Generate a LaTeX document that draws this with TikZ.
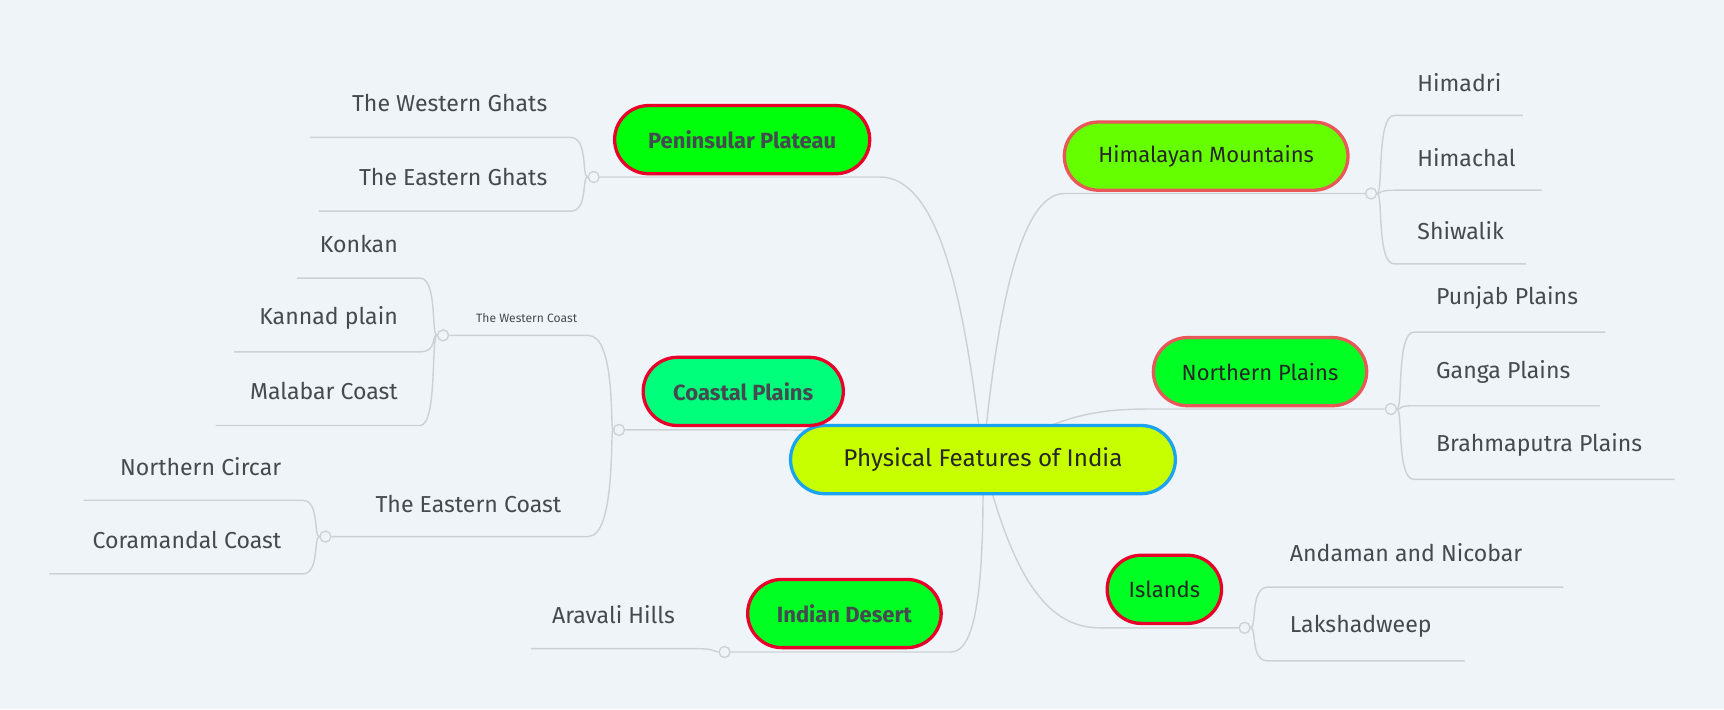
\documentclass[tikz,border=0pt]{standalone}
\usepackage{fontspec}
\setmainfont{Fira Sans}
\definecolor{bgc}{HTML}{EFF4F8}
\definecolor{lineg}{HTML}{CDD1D5}
\definecolor{txt}{HTML}{454A50}
\definecolor{HTMLblue}{HTML}{1AA3F0}
\definecolor{ylg}{HTML}{C8FF00}
\definecolor{redb}{HTML}{E85858}
\definecolor{redc}{HTML}{E8002A}
\definecolor{hgreen}{HTML}{66FF00}
\definecolor{ngreen}{HTML}{00FF22}
\definecolor{pgreen}{HTML}{00FF0A}
\definecolor{cgreen}{HTML}{00FF7A}
\begin{document}
\begin{tikzpicture}[x=1pt,y=-1pt,
  ln/.style={draw=lineg,line width=1.3pt},
  dot/.style={circle,draw=lineg,fill=bgc,line width=1.2pt,minimum size=10pt,inner sep=0pt},
  main/.style={rounded corners=31pt,minimum height=62pt,line width=3pt,font=\fontsize{20}{24}\selectfont,text=black!85},
  sub/.style={font=\fontsize{21}{25}\selectfont,text=txt,inner sep=0pt},
  lbr/.style={sub,anchor=west},
  lbl/.style={sub,anchor=east}]
\fill[bgc] (0,0) rectangle (1568,645);
\useasboundingbox (0,0) rectangle (1568,645);
\coordinate (c0) at (894,418);
\node[dot] (dh) at (1247,176) {};
\node[dot] (dn) at (1265,372) {};
\node[dot] (di) at (1132,571) {};
\node[dot] (dp) at (540,161) {};
\node[dot] (dc) at (563,391) {};
\node[dot] (dw) at (403,305) {};
\node[dot] (de) at (296,488) {};
\node[dot] (dd) at (659,593) {};
\draw[ln] (c0) .. controls (905,300) and (925,176) .. (968,176) -- (dh);
\draw[ln] (c0) .. controls (960,380) and (990,372) .. (1045,372) -- (dn);
\draw[ln] (c0) .. controls (920,520) and (950,571) .. (1000,571) -- (di);
\draw[ln] (c0) .. controls (880,300) and (860,161) .. (800,161) -- (dp);
\draw[ln] (c0) .. controls (860,395) and (780,391) .. (700,391) -- (dc);
\draw[ln] (c0) .. controls (895,520) and (890,593) .. (865,593) -- (dd);
\draw[ln] (dc) .. controls (555,391) and (560,305) .. (535,305) -- (dw);
\draw[ln] (dc) .. controls (555,391) and (560,488) .. (535,488) -- (de);
\foreach \yy/\xe/\t in {105/1385/Himadri,173/1402/Himachal,240/1388/Shiwalik}{
  \draw[ln] (dh) .. controls (1258,176) and (1252,\yy) .. (1268,\yy) -- (\xe,\yy);
  \node[lbr] at (1289,\yy-30) {\t};}
\foreach \yy/\xe/\t in {302/1460/Punjab Plains,369/1455/Ganga Plains,436/1523/Brahmaputra Plains}{
  \draw[ln] (dn) .. controls (1276,372) and (1270,\yy) .. (1286,\yy) -- (\xe,\yy);
  \node[lbr] at (1306,\yy-31) {\t};}
\foreach \yy/\xe/\t in {534/1422/Andaman and Nicobar,601/1332/Lakshadweep}{
  \draw[ln] (di) .. controls (1143,571) and (1137,\yy) .. (1153,\yy) -- (\xe,\yy);
  \node[lbr] at (1173,\yy-31) {\t};}
\foreach \yy/\xe/\t in {125/282/The Western Ghats,192/290/The Eastern Ghats}{
  \draw[ln] (dp) .. controls (529,161) and (535,\yy) .. (519,\yy) -- (\xe,\yy);
  \node[lbl] at (498,\yy-31) {\t};}
\foreach \yy/\xe/\t in {253/270/Konkan,320/213/Kannad plain,387/196/Malabar Coast}{
  \draw[ln] (dw) .. controls (392,305) and (398,\yy) .. (382,\yy) -- (\xe,\yy);
  \node[lbl] at (362,\yy-31) {\t};}
\foreach \yy/\xe/\t in {455/76/Northern Circar,522/45/Coramandal Coast}{
  \draw[ln] (de) .. controls (285,488) and (291,\yy) .. (275,\yy) -- (\xe,\yy);
  \node[lbl] at (256,\yy-31) {\t};}
\draw[ln] (dd) .. controls (650,593) and (650,590) .. (635,590) -- (483,590);
\node[sub] at (558,559) {Aravali Hills};
\node[font=\fontsize{11}{13}\selectfont,text=txt] at (479,289) {The Western Coast};
\node[sub] at (426,458) {The Eastern Coast};
\node[main,draw=HTMLblue,minimum width=350pt,fill=ylg,font=\fontsize{22}{26}\selectfont] (c) at (894,418) {Physical Features of India};
\node[main,draw=redb,fill=hgreen,minimum width=258pt] (h) at (1097,142) {Himalayan Mountains};
\node[main,draw=redb,fill=ngreen,minimum width=194pt] (n) at (1146,338) {Northern Plains};
\node[main,draw=redc,fill=ngreen,minimum width=104pt] (i) at (1059,536) {Islands};
\node[main,draw=redc,fill=pgreen,minimum width=232pt,font=\bfseries\fontsize{20}{24}\selectfont,text=txt] (p) at (675,127) {Peninsular Plateau};
\node[main,draw=redc,fill=cgreen,minimum width=182pt,font=\bfseries\fontsize{20}{24}\selectfont,text=txt] (cp) at (676,356) {Coastal Plains};
\node[main,draw=redc,fill=ngreen,minimum width=176pt,font=\bfseries\fontsize{20}{24}\selectfont,text=txt] (d) at (768,558) {Indian Desert};
\end{tikzpicture}
\end{document}
